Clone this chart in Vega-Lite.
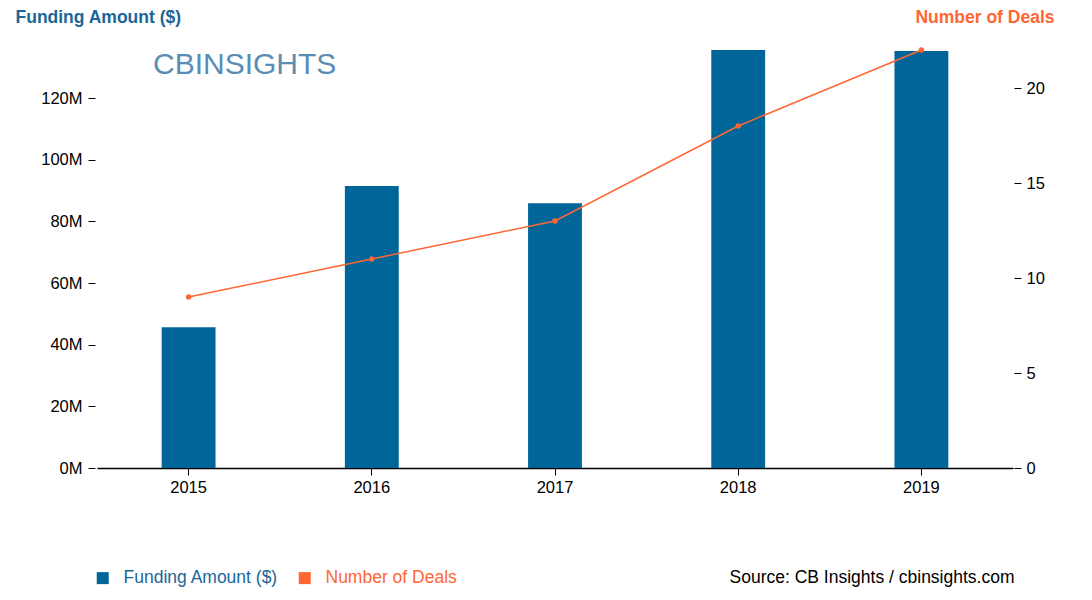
{
  "$schema": "https://vega.github.io/schema/vega-lite/v6.json",
  "width": 916,
  "height": 418,
  "autosize": {"type": "none"},
  "padding": {"left": 97, "top": 50, "right": 79, "bottom": 132},
  "background": "white",
  "config": {
    "font": "Liberation Sans",
    "view": {"stroke": null},
    "axis": {"labelFont": "Liberation Sans", "titleFont": "Liberation Sans", "labelFontSize": 16.5, "labelColor": "#000000", "grid": false}
  },
  "title": {
    "text": "CBINSIGHTS",
    "anchor": "start",
    "frame": "group",
    "orient": "top",
    "dx": 56,
    "dy": 76,
    "fontSize": 30,
    "fontWeight": "normal",
    "color": "#5a8db5",
    "font": "Liberation Sans"
  },
  "data": {
    "values": [
      {"year": "2015", "funding": 45700000, "deals": 9},
      {"year": "2016", "funding": 91500000, "deals": 11},
      {"year": "2017", "funding": 85900000, "deals": 13},
      {"year": "2018", "funding": 135600000, "deals": 18},
      {"year": "2019", "funding": 135300000, "deals": 22}
    ]
  },
  "encoding": {
    "x": {
      "field": "year",
      "type": "ordinal",
      "scale": {"paddingInner": 0.706, "paddingOuter": 0.353},
      "axis": {
        "labelAngle": 0,
        "labelPadding": 4,
        "tickSize": 7,
        "tickColor": "#000000",
        "domainColor": "#000000",
        "domainWidth": 1.5,
        "title": "Source: CB Insights / cbinsights.com",
        "titleAnchor": "end",
        "titleAlign": "right",
        "titleX": 917,
        "titleY": 109,
        "titleBaseline": "middle",
        "titleFontSize": 17.5,
        "titleFontWeight": "normal",
        "titleColor": "#000000"
      }
    }
  },
  "layer": [
    {
      "mark": {"type": "bar", "color": "#006699"},
      "encoding": {
        "y": {
          "field": "funding",
          "type": "quantitative",
          "scale": {"domain": [0, 135600000], "nice": false},
          "axis": {
            "values": [0, 20000000, 40000000, 60000000, 80000000, 100000000, 120000000],
            "labelExpr": "datum.value / 1000000 + 'M'",
            "domain": false,
            "tickSize": 7,
            "offset": 2,
            "tickColor": "#000000",
            "labelPadding": 6,
            "title": "Funding Amount ($)",
            "titleAngle": 0,
            "titleAlign": "left",
            "titleAnchor": null,
            "titleX": -80,
            "titleY": -33,
            "titleBaseline": "middle",
            "titleFontSize": 17.5,
            "titleFontWeight": "bold",
            "titleColor": "#1a6699"
          }
        },
        "color": {
          "datum": "Funding Amount ($)",
          "scale": {"domain": ["Funding Amount ($)", "Number of Deals"], "range": ["#006699", "#ff6633"]},
          "legend": {
            "orient": "none",
            "legendX": -3,
            "legendY": 519,
            "direction": "horizontal",
            "title": null,
            "symbolType": "square",
            "symbolSize": 144,
            "symbolStrokeWidth": 0,
            "labelFontSize": 17.5,
            "labelFont": "Liberation Sans",
            "labelOffset": 12,
            "columnPadding": 17,
            "encode": {
              "labels": {"update": {"fill": {"signal": "datum.label == 'Number of Deals' ? '#ff6633' : '#1a6699'"}}},
              "symbols": {"update": {"fill": {"signal": "datum.label == 'Number of Deals' ? '#ff6633' : '#006699'"}, "opacity": {"value": 1}}}
            }
          }
        }
      }
    },
    {
      "mark": {"type": "line", "color": "#ff6633", "strokeWidth": 1.5, "point": {"filled": true, "size": 30, "color": "#ff6633"}},
      "encoding": {
        "y": {
          "field": "deals",
          "type": "quantitative",
          "scale": {"domain": [0, 22], "nice": false},
          "axis": {
            "values": [0, 5, 10, 15, 20],
            "domain": false,
            "tickSize": 7,
            "offset": 1,
            "tickColor": "#000000",
            "labelPadding": 5,
            "title": "Number of Deals",
            "titleAngle": 0,
            "titleAlign": "right",
            "titleAnchor": null,
            "titleX": 40,
            "titleY": -33,
            "titleBaseline": "middle",
            "titleFontSize": 17.5,
            "titleFontWeight": "bold",
            "titleColor": "#ff6633"
          }
        },
        "color": {"datum": "Number of Deals"}
      }
    }
  ],
  "resolve": {"scale": {"y": "independent"}}
}
